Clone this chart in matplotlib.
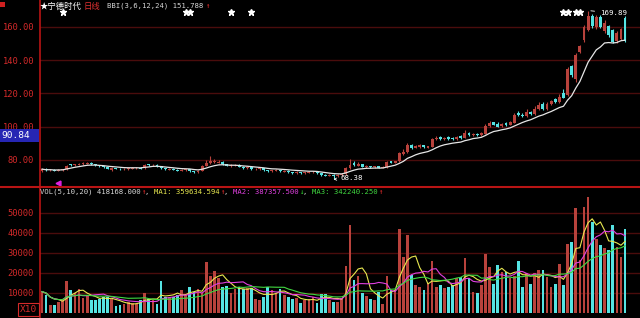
import matplotlib.pyplot as plt
from matplotlib.patches import Rectangle
from matplotlib.lines import Line2D
import numpy as np
import pandas as pd

W, H = 640, 318

# daily candles (oldest first)
opens = [73.5, 74.5, 73.8, 74.2, 73.6, 74.0, 74.4, 77.4, 76.8, 77.2,
         77.6, 77.8, 78.4, 77.6, 77.0, 76.4, 75.8, 73.8, 75.2, 74.8,
         74.4, 74.6, 74.8, 75.0, 75.4, 75.0, 77.4, 76.8, 77.2, 76.4,
         75.0, 74.2, 74.8, 74.2, 73.6, 74.0, 74.4, 73.4, 72.8, 73.4,
         76.6, 78.0, 78.6, 78.4, 79.0, 77.4, 76.4, 76.8, 77.2, 76.0,
         75.0, 75.6, 74.4, 74.6, 75.0, 74.0, 73.2, 73.6, 74.0, 73.0,
         73.6, 72.8, 72.2, 72.8, 72.2, 72.4, 72.6, 73.0, 72.2, 71.0,
         70.6, 71.2, 70.4, 71.0, 71.4, 75.0, 78.4, 76.6, 77.4, 75.8,
         76.4, 75.6, 76.2, 75.4, 75.6, 79.2, 78.4, 79.2, 83.8, 84.8,
         89.0, 87.4, 87.6, 88.8, 87.4, 88.0, 92.4, 93.8, 92.4, 93.6,
         93.2, 92.4, 94.4, 93.2, 96.2, 94.8, 95.6, 94.8, 95.8, 100.4,
         102.6, 101.6, 100.2, 102.2, 101.2, 102.4, 108.4, 107.2, 106.2, 109.0,
         107.6, 110.6, 113.6, 110.6, 113.4, 116.8, 114.6, 120.6, 119.0, 136.6,
         129.0, 144.8, 152.0, 158.0, 166.4, 160.0, 166.2, 157.4, 160.8, 158.4,
         151.4, 153.0, 165.6]
closes = [74.5, 73.8, 74.2, 73.6, 74.0, 74.4, 76.6, 76.8, 77.4, 77.8,
          78.2, 78.4, 77.6, 77.0, 76.4, 75.8, 74.8, 75.2, 74.8, 74.4,
          74.8, 75.0, 75.2, 75.4, 74.8, 77.2, 76.8, 77.2, 76.4, 75.0,
          74.4, 74.8, 74.2, 73.6, 74.2, 74.4, 73.4, 72.8, 73.4, 76.6,
          78.2, 79.2, 79.4, 79.0, 77.4, 76.6, 77.0, 77.2, 76.0, 75.2,
          75.6, 74.6, 74.8, 75.0, 74.0, 73.2, 73.8, 74.0, 73.2, 73.6,
          72.8, 72.2, 72.8, 72.2, 72.6, 72.8, 73.0, 72.2, 71.0, 70.6,
          71.2, 70.4, 71.0, 71.6, 75.0, 77.0, 76.8, 77.4, 76.0, 76.4,
          75.8, 76.2, 75.4, 75.8, 78.8, 78.4, 79.2, 84.2, 85.0, 89.2,
          87.4, 88.4, 88.8, 87.6, 88.2, 92.6, 93.2, 92.6, 93.4, 92.4,
          92.6, 93.6, 93.0, 96.4, 95.2, 95.6, 94.8, 96.0, 100.6, 102.2,
          101.2, 100.0, 101.6, 101.0, 102.6, 107.2, 106.8, 106.4, 108.6, 107.6,
          110.8, 113.2, 110.4, 113.8, 115.2, 114.8, 117.8, 117.4, 134.6, 131.0,
          143.4, 148.6, 160.0, 166.6, 160.4, 166.0, 160.2, 162.6, 155.4, 151.0,
          156.4, 158.6, 151.6]
highs = [75.0, 75.0, 74.6, 74.5, 74.4, 74.8, 77.0, 77.8, 77.8, 78.2,
         78.6, 79.0, 78.8, 77.8, 77.2, 76.6, 76.0, 75.6, 75.4, 75.0,
         75.2, 75.4, 75.6, 75.8, 75.6, 77.6, 77.8, 77.6, 77.4, 76.6,
         75.2, 75.2, 75.0, 74.4, 74.6, 74.8, 74.6, 73.6, 73.8, 77.0,
         80.2, 82.2, 80.6, 79.8, 79.2, 77.8, 77.4, 77.6, 77.4, 76.2,
         76.0, 75.8, 75.2, 75.4, 75.2, 74.2, 74.2, 74.4, 74.2, 74.0,
         73.8, 73.0, 73.2, 73.0, 73.0, 73.2, 73.4, 73.2, 72.4, 71.4,
         71.6, 71.4, 71.4, 72.0, 75.6, 80.4, 79.6, 78.8, 77.6, 76.8,
         76.6, 76.6, 76.4, 76.2, 79.2, 79.6, 79.6, 85.0, 86.4, 90.4,
         89.6, 89.0, 89.4, 89.2, 88.6, 93.4, 94.4, 94.2, 94.0, 94.2,
         93.6, 94.2, 95.0, 97.8, 96.8, 96.2, 96.0, 96.6, 101.4, 103.4,
         103.0, 102.6, 102.4, 103.0, 103.4, 108.2, 109.6, 108.0, 110.4, 109.6,
         112.4, 114.6, 114.6, 115.0, 116.2, 117.4, 119.4, 123.0, 136.0, 137.4,
         144.6, 149.4, 161.4, 169.89, 168.0, 167.2, 167.0, 164.0, 161.4, 159.0,
         157.4, 159.6, 166.4]
lows = [73.0, 73.2, 73.4, 73.2, 73.2, 73.6, 74.2, 76.2, 76.4, 76.8,
        77.2, 77.4, 77.2, 76.6, 76.0, 75.2, 74.4, 73.4, 74.4, 74.0,
        74.0, 74.2, 74.4, 74.6, 74.4, 74.8, 76.4, 76.4, 76.0, 74.6,
        74.0, 73.8, 73.8, 73.2, 73.2, 73.6, 73.0, 72.4, 72.4, 73.2,
        76.2, 77.6, 78.2, 78.0, 77.0, 76.2, 76.0, 76.4, 75.6, 74.8,
        74.6, 74.2, 74.0, 74.2, 73.6, 72.8, 72.8, 73.2, 72.8, 72.6,
        72.4, 71.8, 71.8, 71.8, 71.8, 72.0, 72.2, 71.8, 70.6, 70.2,
        70.2, 68.38, 70.0, 70.6, 71.2, 74.6, 76.4, 76.2, 75.6, 75.4,
        75.4, 75.2, 75.0, 75.0, 75.4, 78.0, 78.0, 79.0, 83.2, 84.4,
        86.8, 87.0, 87.2, 87.2, 87.0, 87.6, 92.0, 92.2, 92.0, 92.0,
        92.2, 92.0, 92.6, 93.0, 94.6, 94.4, 94.4, 94.4, 95.4, 100.0,
        100.8, 99.6, 99.8, 100.6, 100.8, 102.0, 106.2, 106.0, 105.8, 107.0,
        107.2, 110.0, 110.0, 110.2, 113.0, 114.0, 114.2, 117.0, 118.6, 130.0,
        127.0, 144.2, 151.0, 157.4, 159.6, 159.0, 159.4, 156.6, 154.0, 150.2,
        150.6, 152.4, 150.8]
# volume in the chart's x10 units
vols = [10500, 9000, 3850, 4000, 5300, 6350, 16000, 11350, 9700, 11700,
        7200, 8850, 6350, 6350, 6850, 8000, 7700, 6850, 3350, 3850,
        4200, 5200, 4700, 4350, 6350, 10000, 6850, 6350, 4350, 16000,
        8000, 8000, 8000, 8850, 11350, 8850, 12700, 10500, 11700, 9700,
        25200, 18350, 20850, 17200, 12700, 13350, 9700, 11850, 12700, 11700,
        12200, 12200, 6700, 6350, 8000, 12700, 11350, 9350, 11700, 8850,
        8000, 6850, 7200, 4700, 6350, 6700, 8000, 5000, 9350, 9350,
        6350, 5200, 5300, 7200, 23350, 43850, 16350, 18350, 9700, 8500,
        6700, 6350, 10500, 4350, 18350, 11350, 11350, 41850, 28000, 38850,
        18850, 13850, 12700, 11350, 15000, 26000, 13000, 13850, 12500, 13000,
        13850, 17200, 18000, 27200, 17200, 10500, 10000, 13850, 29350, 22700,
        14200, 24000, 20500, 20500, 17200, 18350, 25850, 13000, 19700, 14200,
        19700, 21350, 21350, 18000, 12700, 14200, 24350, 13850, 34350, 35500,
        52200, 26350, 52700, 58000, 45200, 36700, 33850, 32200, 31350, 43850,
        33000, 28000, 41817]

stock_name = '宁德时代'
price_ticks = [160, 140, 120, 100, 80]
vol_ticks = [50000, 40000, 30000, 20000, 10000]
star_idx = [5, 35, 36, 46, 51, 127, 128, 130, 131]
bbi_text = 'BBI(3,6,12,24) 151.788'
vol_parts = [('VOL(5,10,20) 418168.000', '#d8d8d8'), ('↑', '#ff3030'), (', ', '#d8d8d8'),
             ('MA1: 359634.594', '#e8e850'), ('↑', '#ff3030'), (', ', '#d8d8d8'),
             ('MA2: 387357.500', '#e040e0'), ('↓', '#30e030'), (', ', '#d8d8d8'),
             ('MA3: 342240.250', '#40d840'), ('↑', '#ff3030')]

RED = '#b8423c'
CYAN = '#55e3e3'
GRID = '#4a0c0c'
AXRED = '#b81414'
LBL = '#d42a2a'
MONO = 'DejaVu Sans Mono'
CJK = ['Noto Sans CJK SC', 'DejaVu Sans']
plt.rcParams['font.family'] = ['DejaVu Sans', 'Noto Sans CJK SC']

o, c = np.array(opens), np.array(closes)
h, l = np.array(highs), np.array(lows)
idx = np.arange(len(c))
cols = np.where(c >= o, RED, CYAN)

close_s = pd.Series(c)
bbi = sum(close_s.rolling(k, min_periods=1).mean() for k in (3, 6, 12, 24)) / 4
vol_s = pd.Series(vols, dtype=float)
vma = {k: vol_s.rolling(k, min_periods=1).mean() for k in (5, 10, 20)}

fig = plt.figure(figsize=(W / 100, H / 100), dpi=100, facecolor='black')

ax_left = 39.5
step = 4.106
x_lo = -(42 - ax_left) / step
x_hi = x_lo + (W - ax_left) / step

ax1 = fig.add_axes([ax_left / W, 1 - 186.5 / H, (W - ax_left) / W, 186.5 / H])
ax2 = fig.add_axes([ax_left / W, 0, (W - ax_left) / W, 130.5 / H])
for ax in (ax1, ax2):
    ax.set_facecolor('black')
    for s in ax.spines.values():
        s.set_visible(False)
    ax.set_xlim(x_lo, x_hi)
    ax.set_xticks([])
    ax.tick_params(axis='y', length=0, pad=4, labelcolor=LBL, labelsize=6.3)
    ax.grid(axis='y', color=GRID, lw=1)
    ax.set_axisbelow(True)

# price panel
ax1.set_ylim(64.06, 176.24)
ax1.set_yticks(price_ticks)
ax1.set_yticklabels([f'{t:.2f}' for t in price_ticks], family=MONO)
ax1.vlines(idx, l, h, colors=cols, lw=0.8)
ax1.bar(idx, np.maximum(np.abs(c - o), 0.35), bottom=np.minimum(o, c),
        width=0.7, color=cols, lw=0)
ax1.plot(idx, bbi, color='#e6e6e6', lw=0.9)
ax1.plot(star_idx, [0.936] * len(star_idx), ls='none', marker='*', ms=5,
         color='white', mec='white', transform=ax1.get_xaxis_transform())
ax1.plot([4], [0.02], ls='none', marker='<', ms=3.5, color='#e020e0',
         transform=ax1.get_xaxis_transform())

imax, imin = int(np.argmax(h)), int(np.argmin(l))
ax1.annotate(f'{h[imax]:.2f}', xy=(imax, h[imax]), xytext=(12, -2.5),
             textcoords='offset pixels', color='white', family=MONO, fontsize=5.3,
             va='center', ha='left',
             arrowprops=dict(arrowstyle='-', color='white', lw=0.6))
ax1.annotate(f'{l[imin]:.2f}', xy=(imin, l[imin]), xytext=(7, 1),
             textcoords='offset pixels', color='white', family=MONO, fontsize=5.3,
             va='center', ha='left',
             arrowprops=dict(arrowstyle='->', color='white', lw=0.6, mutation_scale=4))

# volume panel
ax2.set_ylim(-2700, 62550)
ax2.set_yticks(vol_ticks)
ax2.set_yticklabels([str(t) for t in vol_ticks], family=MONO)
ax2.bar(idx, vols, width=0.65, color=cols, lw=0)
ax2.plot(idx, vma[5], color='#e8e850', lw=0.8)
ax2.plot(idx, vma[10], color='#e040e0', lw=0.8)
ax2.plot(idx, vma[20], color='#40d840', lw=0.8)

# frame lines
fig.add_artist(Line2D([ax_left / W] * 2, [0, 1], color=AXRED, lw=1.2))
fig.add_artist(Line2D([0, 1], [1 - 187 / H] * 2, color=AXRED, lw=1.5))


def fx(x):
    return x / W


def fy(y):
    return 1 - y / H


# header texts
fig.text(fx(40), fy(6), '★' + stock_name, color='white', family=CJK, fontsize=6.0, va='center')
fig.text(fx(84), fy(6), '日线', color='#e03030', family=CJK, fontsize=6.0, va='center')
fs_m = 5.25
cw = 0.602 * fs_m * 100 / 72
fig.text(fx(107), fy(6), bbi_text, color='#d8d8d8', family=MONO, fontsize=fs_m, va='center')
fig.text(fx(107 + len(bbi_text) * cw + 1), fy(6), '↑', color='#ff3030', family=MONO,
         fontsize=fs_m, va='center')

x = 40.0
for s, col in vol_parts:
    fig.text(fx(x), fy(192), s, color=col, family=MONO, fontsize=fs_m, va='center')
    x += len(s) * cw

# price box, corner marks
fig.add_artist(Rectangle((0, fy(141.5)), fx(39), 13 / H, transform=fig.transFigure,
                         facecolor='#2626b4', edgecolor='none', zorder=5))
fig.text(fx(1), fy(135), '90.84', color='white', family=MONO, fontsize=6.8,
         va='center', zorder=6)
fig.add_artist(Rectangle((0, fy(7)), fx(5), 5 / H, transform=fig.transFigure,
                         facecolor='#d02020', edgecolor='none'))
fig.add_artist(Rectangle((fx(17.5), fy(315.5)), fx(21.5), 12.5 / H, transform=fig.transFigure,
                         facecolor='black', edgecolor=LBL, lw=0.8, zorder=5))
fig.text(fx(28.2), fy(309.3), 'X10', color=LBL, family=MONO, fontsize=6.8,
         va='center', ha='center', zorder=6)

fig.savefig('out.png', dpi=100, facecolor='black')
